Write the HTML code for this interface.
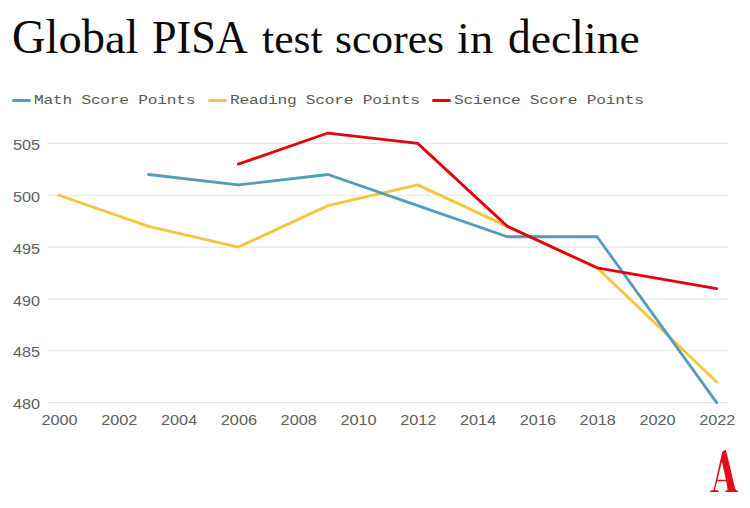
<!DOCTYPE html>
<html><head><meta charset="utf-8"><style>
html,body{margin:0;padding:0;background:#fff;width:750px;height:508px;overflow:hidden;}
body{position:relative;}
.tw{position:absolute;top:12.8px;font-family:"Liberation Serif",serif;font-size:48px;line-height:48px;height:48px;color:#0b0b0b;white-space:nowrap;transform-origin:0 0;}
.ch{display:inline-block;transform-origin:0 40.2px;}
.leg{position:absolute;top:93px;font-family:"Liberation Mono",monospace;font-size:13.5px;letter-spacing:-0.2px;color:#585858;white-space:nowrap;line-height:16px;transform:scaleX(1.2);transform-origin:0 0;}
.sw{position:absolute;top:99px;height:3px;width:19px;border-radius:1.5px;}
svg{position:absolute;left:0;top:0;}
.ax text{font-family:"Liberation Sans",sans-serif;font-size:14.2px;fill:#606060;}
</style></head><body>
<div class="tw" style="left:12.06px;transform:scaleX(0.9680)"><span class="ch">G</span><span class="ch">l</span><span class="ch" style="transform:scaleY(0.880)">o</span><span class="ch">b</span><span class="ch" style="transform:scaleY(0.880)">a</span><span class="ch">l</span></div><div class="tw" style="left:151.88px;transform:scaleX(0.9204)"><span class="ch" style="transform:scaleY(0.985)">PISA</span></div><div class="tw" style="left:261.50px;transform:scaleX(0.9104)"><span class="ch" style="transform:scaleY(0.860)">test</span></div><div class="tw" style="left:335.08px;transform:scaleX(0.9085)"><span class="ch" style="transform:scaleY(0.880)">scores</span></div><div class="tw" style="left:457.33px;transform:scaleX(0.9667)"><span class="ch" style="transform:scaleY(0.930)">i</span><span class="ch" style="transform:scaleY(0.880)">n</span></div><div class="tw" style="left:508.25px;transform:scaleX(0.9500)"><span class="ch" style="transform:scaleY(0.990)">d</span><span class="ch" style="transform:scaleY(0.880)">ec</span><span class="ch" style="transform:scaleY(0.990)">l</span><span class="ch" style="transform:scaleY(0.930)">i</span><span class="ch" style="transform:scaleY(0.880)">ne</span></div>
<div class="sw" style="left:12px;background:#539dbc"></div>
<div class="leg" style="left:34px">Math Score Points</div>
<div class="sw" style="left:208px;background:#f7c53a"></div>
<div class="leg" style="left:230px">Reading Score Points</div>
<div class="sw" style="left:432px;background:#e6000e"></div>
<div class="leg" style="left:454px">Science Score Points</div>
<svg width="750" height="508" viewBox="0 0 750 508">
<g stroke="#e6e6e6" stroke-width="1.1"><line x1="48" x2="728" y1="402.65" y2="402.65"/><line x1="48" x2="728" y1="350.80" y2="350.80"/><line x1="48" x2="728" y1="298.95" y2="298.95"/><line x1="48" x2="728" y1="247.10" y2="247.10"/><line x1="48" x2="728" y1="195.25" y2="195.25"/><line x1="48" x2="728" y1="143.40" y2="143.40"/></g>
<g class="ax" text-anchor="end"><text x="40" y="409.25" textLength="27" lengthAdjust="spacingAndGlyphs">480</text><text x="40" y="357.40" textLength="27" lengthAdjust="spacingAndGlyphs">485</text><text x="40" y="305.55" textLength="27" lengthAdjust="spacingAndGlyphs">490</text><text x="40" y="253.70" textLength="27" lengthAdjust="spacingAndGlyphs">495</text><text x="40" y="201.85" textLength="27" lengthAdjust="spacingAndGlyphs">500</text><text x="40" y="150.00" textLength="27" lengthAdjust="spacingAndGlyphs">505</text></g>
<g class="ax" text-anchor="middle"><text x="59.50" y="424.9" textLength="36.2" lengthAdjust="spacingAndGlyphs">2000</text><text x="119.30" y="424.9" textLength="36.2" lengthAdjust="spacingAndGlyphs">2002</text><text x="179.10" y="424.9" textLength="36.2" lengthAdjust="spacingAndGlyphs">2004</text><text x="238.90" y="424.9" textLength="36.2" lengthAdjust="spacingAndGlyphs">2006</text><text x="298.70" y="424.9" textLength="36.2" lengthAdjust="spacingAndGlyphs">2008</text><text x="358.50" y="424.9" textLength="36.2" lengthAdjust="spacingAndGlyphs">2010</text><text x="418.30" y="424.9" textLength="36.2" lengthAdjust="spacingAndGlyphs">2012</text><text x="478.10" y="424.9" textLength="36.2" lengthAdjust="spacingAndGlyphs">2014</text><text x="537.90" y="424.9" textLength="36.2" lengthAdjust="spacingAndGlyphs">2016</text><text x="597.70" y="424.9" textLength="36.2" lengthAdjust="spacingAndGlyphs">2018</text><text x="657.50" y="424.9" textLength="36.2" lengthAdjust="spacingAndGlyphs">2020</text><text x="717.30" y="424.9" textLength="36.2" lengthAdjust="spacingAndGlyphs">2022</text></g>
<g fill="none" stroke-width="2.8" stroke-linejoin="round" stroke-linecap="round">
<polyline stroke="#f7c53a" points="58.90,195.25 148.60,226.36 238.30,247.10 328.00,205.62 417.70,184.88 507.40,226.36 597.10,267.84 716.70,381.91"/>
<polyline stroke="#539dbc" points="148.60,174.51 238.30,184.88 328.00,174.51 417.70,205.62 507.40,236.73 597.10,236.73 716.70,402.65"/>
<polyline stroke="#e6000e" points="238.30,164.14 328.00,133.03 417.70,143.40 507.40,226.36 597.10,267.84 716.70,288.58"/>
</g>
<path fill="#e30d1a" fill-rule="evenodd" d="M725.9,449.8 L734.9,487.6 Q735.5,490.6 738,490.8 L738,492 L725.4,492 L725.4,490.8 Q727.9,490.6 727.6,489 L726.2,481.2 L717.1,481.2 L715.1,489.6 Q715.1,490.7 718.8,490.8 L718.8,492 L710.1,492 L710.1,490.8 Q713.2,490.7 713.7,489.6 L722.2,451.9 Q724,450.4 725.9,449.8 Z M721.9,461.5 L717.5,479.8 L725.9,479.8 Z"/>
</svg>
</body></html>
